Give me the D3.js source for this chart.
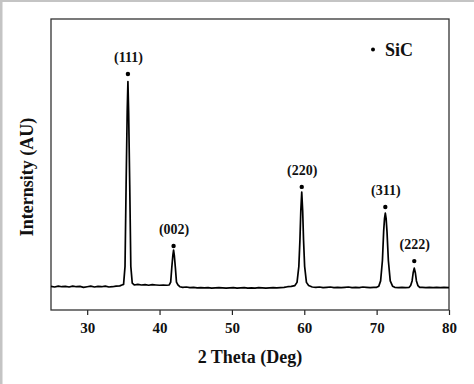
<!DOCTYPE html>
<html>
<head>
<meta charset="utf-8">
<script src="https://cdn.jsdelivr.net/npm/d3@7"></script>
<style>
  html, body { margin: 0; padding: 0; background: #fff; }
  svg { display: block; }
  text { font-family: "Liberation Serif", "Times New Roman", serif; font-weight: bold; fill: #111; }
</style>
</head>
<body>
<div id="chart"></div>
<script>
// XRD pattern (2 theta in degrees, intensity in arbitrary units)
const twoTheta = [
  25, 25.5, 26, 26.5, 27, 27.5, 28, 28.5, 29, 29.5, 30, 30.5, 31, 31.5, 32, 32.5, 33, 33.5, 34, 34.5, 34.8,
  35.03, 35.23, 35.38, 35.53, 35.63, 35.73, 35.88, 36.03, 36.23,
  36.5, 37, 37.5, 38, 38.5, 39, 39.5, 40, 40.5, 41,
  41.34, 41.54, 41.69, 41.84, 41.94, 42.04, 42.19, 42.34, 42.54,
  42.8, 43.2, 43.7, 44.2, 44.7, 45.2, 45.7, 46.2, 46.7, 47.2, 47.7, 48.2, 48.7, 49.2, 49.7, 50.2,
  50.7, 51.2, 51.7, 52.2, 52.7, 53.2, 53.7, 54.2, 54.7, 55.2, 55.7, 56.2, 56.7, 57.2, 57.7,
  58.2, 58.7, 59.0, 59.25, 59.4, 59.52, 59.65, 59.78, 59.9, 60.05, 60.3, 60.6,
  61.1, 61.6, 62.1, 62.6, 63.1, 63.6, 64.1, 64.6, 65.1, 65.6, 66.1, 66.6, 67.1, 67.6, 68.1, 68.6, 69.1, 69.6,
  70.0, 70.3, 70.55, 70.8, 70.97, 71.09, 71.2, 71.31, 71.43, 71.62, 71.88, 72.2,
  72.5, 73, 73.5, 74,
  74.5, 74.7, 74.9, 75.05, 75.2, 75.35, 75.5, 75.7, 75.95,
  76.3, 76.8, 77.3, 77.8, 78.3, 78.8, 79.3, 80
];
const intensity = [
  81, 79, 82, 80, 81, 79, 82, 80, 81, 78, 80, 82, 79, 81, 80, 82, 79, 80, 82, 83, 86,
  88, 150, 430, 680, 785, 680, 430, 150, 92,
  86, 88, 86, 87, 85, 87, 86, 85, 86, 85,
  86, 96, 145, 188, 206, 188, 145, 96, 86,
  80, 78, 79, 77, 78, 76, 77, 76, 77, 75, 76, 77, 76, 75, 76, 77,
  75, 76, 77, 75, 76, 75, 77, 76, 75, 76, 77, 76, 77, 78, 80,
  81, 84, 95, 150, 240, 340, 405, 340, 240, 150, 95, 84,
  79, 78, 79, 77, 78, 79, 77, 78, 77, 78, 79, 77, 78, 77, 79, 78, 77, 78,
  78, 82, 100, 170, 270, 315, 333, 315, 270, 170, 100, 82,
  78, 77, 78, 77,
  78, 84, 100, 128, 144, 128, 100, 84, 78,
  78, 77, 78, 77, 78, 77, 78, 77
];

// SiC reflections: position, marker height, Miller index
const peakPos = [35.63, 41.94, 59.65, 71.2, 75.2];
const peakMark = [811, 220, 423, 354, 168];
const peakHkl = ["(111)", "(002)", "(220)", "(311)", "(222)"];

const xTicks = [30, 40, 50, 60, 70, 80];

const width = 474, height = 384;
const plot = { left: 51, right: 449, top: 19, bottom: 310 };

const svg = d3.select("#chart").append("svg")
  .attr("width", width)
  .attr("height", height);

// grey scan edge of the original figure
svg.append("rect").attr("x", 0).attr("y", 0).attr("width", width).attr("height", 2).attr("fill", "#c4c4c4");
svg.append("rect").attr("x", 0).attr("y", 0).attr("width", 2.5).attr("height", height).attr("fill", "#c4c4c4");

const x = d3.scaleLinear().domain([25, 80]).range([plot.left, plot.right]);
const y = d3.scaleLinear().domain([0, 1000]).range([plot.bottom, plot.top]);

// x axis
const xAxis = svg.append("g")
  .attr("transform", `translate(0,${plot.bottom})`)
  .call(d3.axisBottom(x).tickValues(xTicks).tickSize(5).tickSizeOuter(0).tickPadding(7));
xAxis.select(".domain").remove();
xAxis.selectAll(".tick line").attr("stroke", "#222").attr("stroke-width", 1.2);
xAxis.selectAll(".tick text")
  .attr("font-family", "Liberation Serif")
  .attr("font-weight", "bold")
  .attr("font-size", 15)
  .attr("fill", "#111");

// frame
svg.append("rect")
  .attr("x", x(25)).attr("y", y(1000))
  .attr("width", x(80) - x(25)).attr("height", y(0) - y(1000))
  .attr("fill", "none")
  .attr("stroke", "#333")
  .attr("stroke-width", 1.3);

// the pattern
const pts = twoTheta.map((t, i) => [t, intensity[i]]);
svg.append("path")
  .datum(pts)
  .attr("fill", "none")
  .attr("stroke", "#000")
  .attr("stroke-width", 1.7)
  .attr("stroke-linejoin", "round")
  .attr("d", d3.line().x(d => x(d[0])).y(d => y(d[1])));

// peak markers and labels
svg.selectAll(".mark")
  .data(peakPos)
  .join("circle")
  .attr("class", "mark")
  .attr("cx", d => x(d))
  .attr("cy", (d, i) => y(peakMark[i]))
  .attr("r", 2.2)
  .attr("fill", "#000");

svg.selectAll(".hkl")
  .data(peakPos)
  .join("text")
  .attr("class", "hkl")
  .attr("x", d => x(d) + 0.5)
  .attr("y", (d, i) => y(peakMark[i]) - 12)
  .attr("text-anchor", "middle")
  .attr("font-size", 14)
  .text((d, i) => peakHkl[i]);

// legend
svg.append("circle").attr("cx", 373).attr("cy", 49.5).attr("r", 2).attr("fill", "#000");
svg.append("text").attr("x", 385).attr("y", 56).attr("font-size", 18).text("SiC");

// axis titles
svg.append("text")
  .attr("x", (plot.left + plot.right) / 2)
  .attr("y", 363)
  .attr("text-anchor", "middle")
  .attr("font-size", 18)
  .text("2 Theta (Deg)");

svg.append("text")
  .attr("transform", "translate(33,177) rotate(-90)")
  .attr("text-anchor", "middle")
  .attr("font-size", 18)
  .text("Internsity (AU)");
</script>
</body>
</html>
